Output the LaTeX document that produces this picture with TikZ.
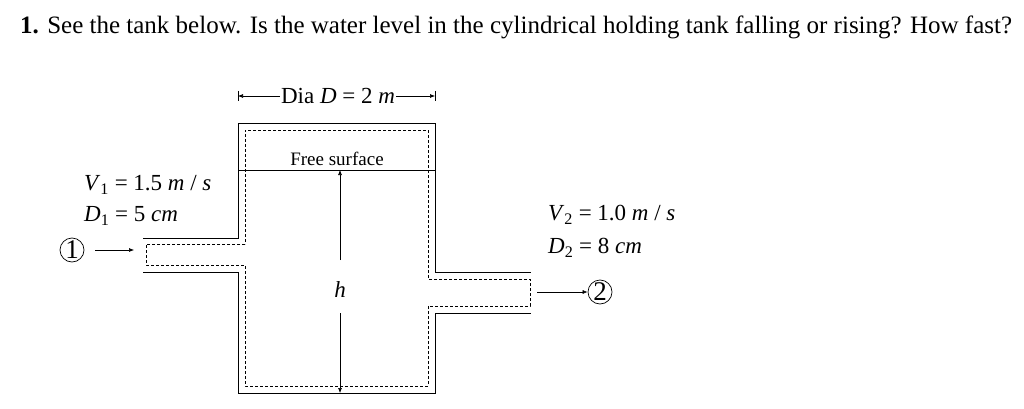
\documentclass[tikz,border=0pt]{standalone}
\usepackage{fontspec}
\setmainfont{Liberation Serif}
\usetikzlibrary{arrows.meta}
\begin{document}
\begin{tikzpicture}[x=1pt,y=-1pt,
  wall/.style={line width=1pt},
  inner/.style={densely dashed,line width=0.7pt},
  arr/.style={-{Latex[length=5pt,width=4pt]},line width=0.6pt},
  lbl/.style={font=\fontsize{23}{26}\selectfont,anchor=west,inner sep=0pt},
  num/.style={circle,draw,line width=0.7pt,inner sep=0pt,minimum size=24pt,font=\fontsize{27}{28}\selectfont}]
\useasboundingbox (0,0) rectangle (1024,409);
\node[anchor=west,inner sep=0pt,font=\fontsize{25}{28}\selectfont] (title) at (20,27) {\textbf{1.} See the tank below. Is the water level in the cylindrical holding tank falling or rising? How fast?};
% walls
\draw[wall] (143,238) -- (238,238) -- (238,123) -- (435,123) -- (435,272) -- (531,272);
\draw[wall] (143,272) -- (238,272) -- (238,393) -- (435,393) -- (435,313) -- (531,313);
\draw[inner] (245,244) -- (146,244) -- (146,265) -- (245,265) -- (245,386) -- (428,386) -- (428,306) -- (530,306) -- (530,279) -- (428,279) -- (428,130) -- (245,130) -- cycle;
\draw[line width=0.7pt] (238,170) -- (435,170);
\node[font=\fontsize{19}{22}\selectfont] (fs) at (337,159) {Free surface};
% h
\node[font=\fontsize{23}{26}\selectfont\itshape] (h) at (340,290) {h};
\coordinate (hup) at (340,260); \coordinate (htop) at (340,170);
\coordinate (hlo) at (340,313); \coordinate (hbot) at (340,393);
\draw[arr] (hup) -- (htop);
\draw[arr] (hlo) -- (hbot);
% dia
\node[font=\fontsize{23}{26}\selectfont,inner sep=1pt] (dia) at (338,96) {Dia \textit{D} = 2 \textit{m}};
\coordinate (dl) at (238,96); \coordinate (dr) at (435,96);
\draw[arr] (dia.west) -- (dl);
\draw[arr] (dia.east) -- (dr);
\draw[line width=0.6pt] (238,91) -- (238,101) (435,91) -- (435,101);
% labels
\node[lbl] (v1) at (84,185) {\textit{V}\textsubscript{1} = 1.5 \textit{m} / \textit{s}};
\node[lbl] (d1) at (84,216) {\textit{D}\textsubscript{1} = 5 \textit{cm}};
\node[lbl] (v2) at (548,215) {\textit{V}\textsubscript{2} = 1.0 \textit{m} / \textit{s}};
\node[lbl] (d2) at (548,248) {\textit{D}\textsubscript{2} = 8 \textit{cm}};
\node[num] (c1) at (72,250) {1};
\node[num] (c2) at (600,292) {2};
\coordinate (ins) at (95,250); \coordinate (in) at (134,250);
\coordinate (outs) at (537,292);
\draw[arr] (ins) -- (in);
\draw[arr] (outs) -- (c2.west);
\end{tikzpicture}
\end{document}
